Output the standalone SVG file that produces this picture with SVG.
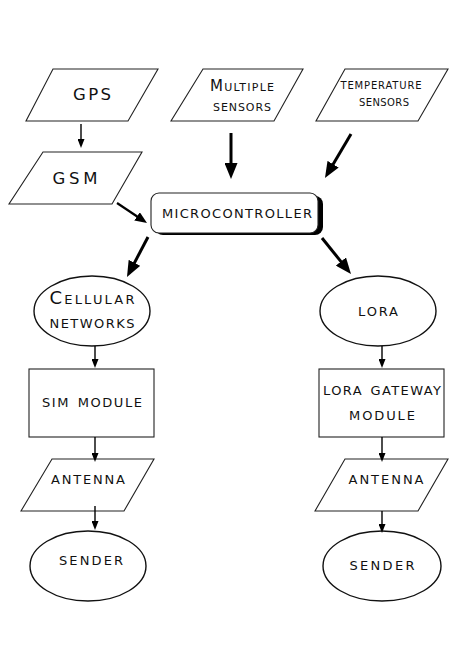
<svg xmlns="http://www.w3.org/2000/svg" width="474" height="670" viewBox="0 0 474 670">
<defs>
<style>
.s{fill:#fff;stroke:#222;stroke-width:1.1}
.e{fill:#fff;stroke:#111;stroke-width:1.4}
text{font-family:"DejaVu Sans","Liberation Sans",sans-serif;font-variant:small-caps;fill:#111;text-anchor:middle}
.c line,.c path{stroke:#000;fill:none}
.thin{stroke-width:1.4;marker-end:url(#ah1)}
.med{stroke-width:2.2;marker-end:url(#ah2)}
.thick{stroke-width:3;marker-end:url(#ah3)}
</style>
<marker id="ah1" markerUnits="userSpaceOnUse" markerWidth="9" markerHeight="7" refX="1" refY="3.5" orient="auto"><path d="M0,0 L9,3.5 L0,7 z" fill="#000"/></marker>
<marker id="ah2" markerUnits="userSpaceOnUse" markerWidth="12" markerHeight="10" refX="2" refY="5" orient="auto"><path d="M0,0 L12,5 L0,10 z" fill="#000"/></marker>
<marker id="ah3" markerUnits="userSpaceOnUse" markerWidth="16" markerHeight="13" refX="2" refY="6.5" orient="auto"><path d="M0,0 L16,6.5 L0,13 z" fill="#000"/></marker>
</defs>
<rect width="474" height="670" fill="#fff"/>

<g id="gps">
<polygon class="s" points="53,69 158,69 128,121 26,121"/>
<text x="92" y="100" font-size="16.5" textLength="38" lengthAdjust="spacing">GPS</text>
</g>
<g id="gsm">
<polygon class="s" points="43,152 142,152 112,204 9,204"/>
<text x="75" y="184" font-size="16.5" textLength="45" lengthAdjust="spacing">GSM</text>
</g>
<g id="multiple-sensors">
<polygon class="s" points="203,69 303,69 274,121 171,121"/>
<text x="242" y="91" font-size="15" textLength="64" lengthAdjust="spacing">Multiple</text>
<text x="242" y="111" font-size="15" textLength="58" lengthAdjust="spacing">sensors</text>
</g>
<g id="temperature-sensors">
<polygon class="s" points="345,69 448,69 418,121 316,121"/>
<text x="381" y="89" font-size="14" textLength="81" lengthAdjust="spacing">temperature</text>
<text x="384" y="106" font-size="14" textLength="50" lengthAdjust="spacing">sensors</text>
</g>
<g id="microcontroller">
<rect x="155" y="196" width="168" height="39" rx="8" fill="#000"/>
<rect class="s" x="151" y="193" width="167" height="40" rx="8"/>
<text x="237" y="218" font-size="19" textLength="150" lengthAdjust="spacing">microcontroller</text>
</g>
<g id="cellular-networks">
<ellipse class="e" cx="92" cy="311" rx="58" ry="35"/>
<text x="92" y="304" font-size="18" textLength="85" lengthAdjust="spacing">Cellular</text>
<text x="92" y="328" font-size="18" textLength="85" lengthAdjust="spacing">networks</text>
</g>
<g id="lora">
<ellipse class="e" cx="378" cy="311" rx="58" ry="35"/>
<text x="378" y="316" font-size="19" textLength="40" lengthAdjust="spacing">lora</text>
</g>
<g id="sim-module">
<rect class="s" x="29" y="369" width="125" height="68"/>
<text x="92" y="407" font-size="19" textLength="100" lengthAdjust="spacing">sim module</text>
</g>
<g id="lora-gateway-module">
<rect class="s" x="319" y="369" width="125" height="68"/>
<text x="382" y="395" font-size="19" textLength="118" lengthAdjust="spacing">lora gateway</text>
<text x="382" y="420" font-size="19" textLength="66" lengthAdjust="spacing">module</text>
</g>
<g id="antenna-left">
<polygon class="s" points="52,459 154,459 124,511 21,511"/>
<text x="88" y="484" font-size="19" textLength="74" lengthAdjust="spacing">antenna</text>
</g>
<g id="antenna-right">
<polygon class="s" points="345,459 448,459 418,511 315,511"/>
<text x="386" y="484" font-size="19" textLength="75" lengthAdjust="spacing">antenna</text>
</g>
<g id="sender-left">
<ellipse class="e" cx="88" cy="566" rx="58" ry="35"/>
<text x="91" y="565" font-size="19" textLength="64" lengthAdjust="spacing">sender</text>
</g>
<g id="sender-right">
<ellipse class="e" cx="382" cy="566" rx="59" ry="35"/>
<text x="382" y="570" font-size="19" textLength="65" lengthAdjust="spacing">sender</text>
</g>

<g id="connectors" class="c">
<line class="thin" x1="81" y1="124" x2="81" y2="140"/>
<line class="thick" x1="231" y1="133" x2="231" y2="165"/>
<line class="thick" x1="351" y1="134" x2="332.1" y2="165.9"/>
<line class="med" x1="117" y1="203" x2="138.7" y2="217.5"/>
<line class="thick" x1="148" y1="237" x2="133.5" y2="264.6"/>
<line class="thick" x1="322" y1="238" x2="342.2" y2="263.1"/>
<line class="thin" x1="95" y1="346" x2="95" y2="360"/>
<line class="thin" x1="95" y1="437" x2="95" y2="454"/>
<line class="thin" x1="95" y1="506" x2="95" y2="522"/>
<line class="thin" x1="382" y1="346" x2="382" y2="360"/>
<line class="thin" x1="382" y1="437" x2="382" y2="454"/>
<line class="thin" x1="382" y1="511" x2="382" y2="525"/>
</g>
</svg>
